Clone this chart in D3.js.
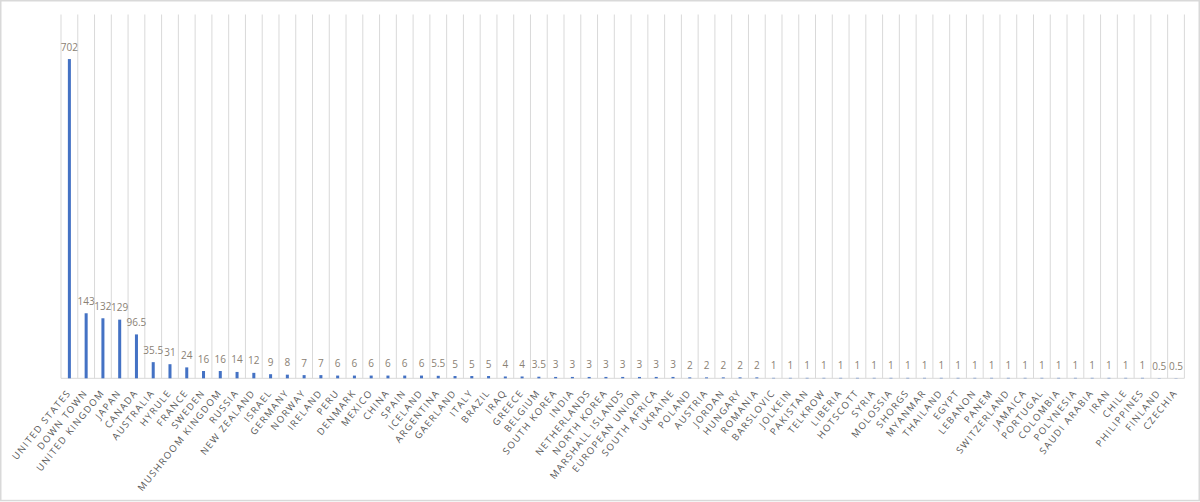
<!DOCTYPE html>
<html>
<head>
<meta charset="utf-8">
<script src="https://cdn.jsdelivr.net/npm/d3@7/dist/d3.min.js"></script>
<style>
  html, body { margin: 0; padding: 0; background: #fff; }
  svg { display: block; }
</style>
</head>
<body>
<svg id="chart" width="1200" height="502"></svg>
<script>
const categories = ["UNITED STATES","DOWN TOWN","UNITED KINGDOM","JAPAN","CANADA","AUSTRALIA","HYRULE","FRANCE","SWEDEN","MUSHROOM KINGDOM","RUSSIA","NEW ZEALAND","ISRAEL","GERMANY","NORWAY","IRELAND","PERU","DENMARK","MEXICO","CHINA","SPAIN","ICELAND","ARGENTINA","GAERLAND","ITALY","BRAZIL","IRAQ","GREECE","BELGIUM","SOUTH KOREA","INDIA","NETHERLANDS","NORTH KOREA","MARSHALL ISLANDS","EUROPEAN UNION","SOUTH AFRICA","UKRAINE","POLAND","AUSTRIA","JORDAN","HUNGARY","ROMANIA","BARSLOVIC","JOLKEIN","PAKISTAN","TELKROW","LIBERIA","HOTSCOTT","SYRIA","MOLOSSIA","SHORGS","MYANMAR","THAILAND","EGYPT","LEBANON","PANEM","SWITZERLAND","JAMAICA","PORTUGAL","COLOMBIA","POLYNESIA","SAUDI ARABIA","IRAN","CHILE","PHILIPPINES","FINLAND","CZECHIA"];
const values = [702,143,132,129,96.5,35.5,31,24,16,16,14,12,9,8,7,7,6,6,6,6,6,6,5.5,5,5,5,4,4,3.5,3,3,3,3,3,3,3,3,2,2,2,2,2,1,1,1,1,1,1,1,1,1,1,1,1,1,1,1,1,1,1,1,1,1,1,1,0.5,0.5];
const yDomain = [0, 800];

const svg = d3.select("#chart");
const plotLeft = 61, plotRight = 1184.4, plotTop = 14.5, plotBottom = 378.3;

// outer border
svg.append("rect")
  .attr("x", 0.75).attr("y", 0.75)
  .attr("width", 1198.5).attr("height", 499.8)
  .attr("fill", "#fff").attr("stroke", "#d9d9d9").attr("stroke-width", 1.5);

const x = d3.scaleBand().domain(categories).range([plotLeft, plotRight])
  .paddingInner(0.82).paddingOuter(0.41);
const y = d3.scaleLinear().domain(yDomain).range([plotBottom, plotTop]);

// vertical gridlines at category boundaries
const step = x.step();
const boundaries = d3.range(categories.length + 1).map(i => plotLeft + i * step);
svg.append("g").selectAll("line").data(boundaries).join("line")
  .attr("x1", d => d).attr("x2", d => d)
  .attr("y1", plotTop).attr("y2", plotBottom)
  .attr("stroke", "#d9d9d9").attr("stroke-width", 1);

// baseline axis
svg.append("line")
  .attr("x1", plotLeft).attr("x2", plotRight)
  .attr("y1", plotBottom).attr("y2", plotBottom)
  .attr("stroke", "#d9d9d9").attr("stroke-width", 1);

const data = categories.map((c, i) => ({ c, v: values[i] }));

// bars
svg.append("g").selectAll("rect").data(data).join("rect")
  .attr("x", d => x(d.c))
  .attr("width", x.bandwidth())
  .attr("y", d => y(d.v))
  .attr("height", d => y(0) - y(d.v))
  .attr("fill", "#4472c4");

// value labels
svg.append("g").selectAll("text").data(data).join("text")
  .attr("x", d => x(d.c) + x.bandwidth() / 2)
  .attr("y", d => y(d.v) - 8.5)
  .attr("text-anchor", "middle")
  .attr("font-family", "'Open Sans', sans-serif")
  .attr("font-size", "10px")
  .attr("fill", "#8a8174")
  .text(d => d.v);

// category labels rotated
svg.append("g").selectAll("text").data(categories).join("text")
  .attr("transform", d => `translate(${x(d) + x.bandwidth() / 2 + 2},393) rotate(-51)`)
  .attr("text-anchor", "end")
  .attr("font-family", "'Open Sans', sans-serif")
  .attr("font-size", "9.5px")
  .attr("letter-spacing", "1.4px")
  .attr("fill", "#595959")
  .text(d => d);
</script>
</body>
</html>
